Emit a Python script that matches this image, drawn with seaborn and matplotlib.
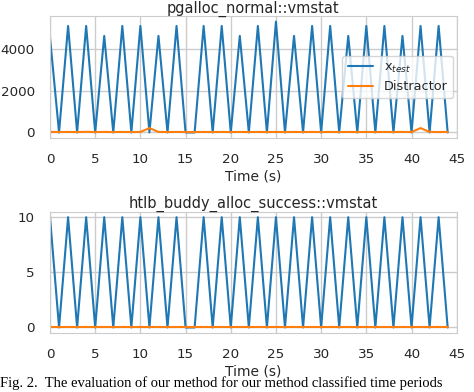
import numpy as np
import pandas as pd
import matplotlib
matplotlib.use("Agg")
import matplotlib.pyplot as plt
import seaborn as sns

# time axis (one sample per second)
time_s = list(range(45))

# pgalloc_normal::vmstat
pg_xtest = [4570, 0, 5130, 0, 5130, 0, 4650, 0, 5130, 0,
            5130, 0, 4650, 0, 5130, 0, 0, 5130, 0, 5130,
            0, 4650, 0, 5130, 0, 5340, 0, 4650, 0, 5130,
            0, 5130, 0, 4650, 0, 5130, 0, 5130, 0, 4650,
            0, 5130, 0, 5130, 0]
pg_distractor = [25, 20, 25, 20, 30, 20, 25, 20, 25, 20,
                 25, 210, 25, 20, 25, 20, 20, 25, 20, 25,
                 20, 25, 20, 25, 20, 25, 20, 25, 20, 25,
                 20, 25, 20, 25, 20, 25, 20, 25, 20, 25,
                 20, 210, 25, 20, 25]

# htlb_buddy_alloc_success::vmstat
htlb_xtest = [10, 0, 10, 0, 10, 0, 10, 0, 10, 0,
              10, 0, 10, 0, 10, 0, 0, 10, 0, 10,
              0, 10, 0, 10, 0, 10, 0, 10, 0, 10,
              0, 10, 0, 10, 0, 10, 0, 10, 0, 10,
              0, 10, 0, 10, 0]
htlb_distractor = [0] * 45

series_names = [r"x$_{test}$", "Distractor"]
titles = ["pgalloc_normal::vmstat", "htlb_buddy_alloc_success::vmstat"]
x_ticks = [0, 5, 10, 15, 20, 25, 30, 35, 40, 45]
y_ticks_top = [0, 2000, 4000]
y_ticks_bottom = [0, 5, 10]
caption = "Fig. 2.  The evaluation of our method for our method classified time periods"


def to_long(xtest, distractor):
    df = pd.DataFrame({"time": time_s * 2,
                       "value": xtest + distractor,
                       "series": [series_names[0]] * len(xtest) + [series_names[1]] * len(distractor)})
    return df


sns.set_style("whitegrid")
plt.rcParams["font.family"] = ["DejaVu Sans"]

fig = plt.figure(figsize=(4.74, 3.92), dpi=100)
ax1 = fig.add_axes([0.1055, 0.648, 0.858, 0.311])
ax2 = fig.add_axes([0.1055, 0.1505, 0.858, 0.3095])

palette = {series_names[0]: "#1f77b4", series_names[1]: "#ff7f0e"}

panels = [(ax1, pg_xtest, pg_distractor, y_ticks_top),
          (ax2, htlb_xtest, htlb_distractor, y_ticks_bottom)]

for i, (ax, xt, dist, yt) in enumerate(panels):
    df = to_long(xt, dist)
    sns.lineplot(data=df, x="time", y="value", hue="series", palette=palette,
                 linewidth=1.5, ax=ax, legend=(i == 0))
    ax.set_xlim(0, 45)
    ax.set_xticks(x_ticks)
    ax.set_yticks(yt)
    ax.set_xlabel("Time (s)", fontsize=10, labelpad=2)
    ax.set_ylabel("")
    ax.set_title(titles[i], fontsize=10.5, pad=2.5)
    ax.tick_params(axis="both", labelsize=9.7, pad=7.5, colors=".15")
    ax.grid(color=".8", linewidth=1)
    for sp in ax.spines.values():
        sp.set_color(".8")

ax1.set_ylim(-267, 5606)
ax2.set_ylim(-0.5, 10.5)

handles, labels = ax1.get_legend_handles_labels()
ax1.legend(handles, labels, loc="center right", fontsize=9.3, frameon=True,
           borderaxespad=0.3, handlelength=2.0, borderpad=0.4, labelspacing=0.4)

fig.text(0.0, 0.004, caption, family="Liberation Serif", fontsize=10.5,
         va="bottom", ha="left", color="black")

fig.savefig("out.png", dpi=100)
